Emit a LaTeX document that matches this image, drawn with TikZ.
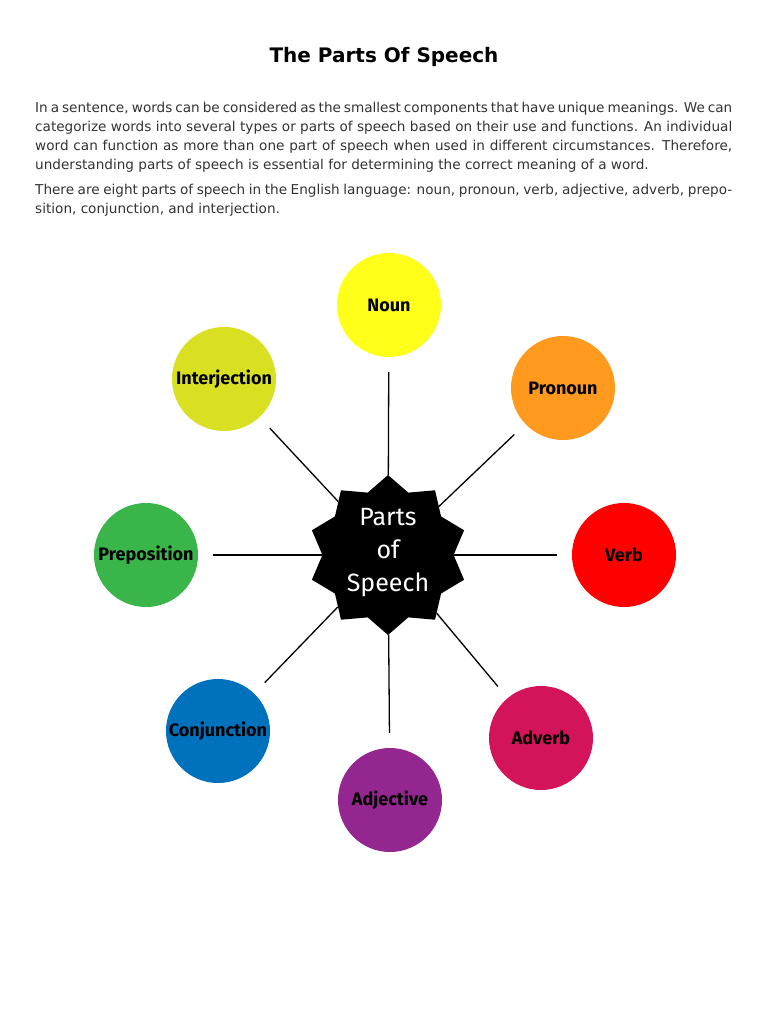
\documentclass[tikz,border=0pt]{standalone}
\usepackage{fontspec}
\setmainfont{DejaVu Sans}
\newfontfamily\lblfont{Fira Sans}
\usetikzlibrary{shapes.geometric}
\definecolor{cnoun}{HTML}{FFFF1A}
\definecolor{cpron}{HTML}{FF9A1F}
\definecolor{cverb}{HTML}{FF0000}
\definecolor{cadvb}{HTML}{D4145A}
\definecolor{cadj}{HTML}{93278F}
\definecolor{cconj}{HTML}{0071BC}
\definecolor{cprep}{HTML}{39B54A}
\definecolor{cintj}{HTML}{D9E021}
\definecolor{txt}{HTML}{333333}
\tikzset{
  posbubble/.style={circle,minimum size=104pt,inner sep=0pt,font=\lblfont\bfseries\fontsize{18}{20}\selectfont,text=black},
  link/.style={line width=1.3pt,shorten >=15pt},
}
\begin{document}
\begin{tikzpicture}[x=1pt,y=-1pt]
\useasboundingbox[fill=white] (0,0) rectangle (768,1024);
\node (title) at (384,57) {\fontsize{20}{24}\selectfont\bfseries The Parts Of Speech};
\node[anchor=north west,text width=697pt,inner sep=0pt,align=justify,text=txt,font=\fontsize{13.6}{19}\selectfont] (body) at (35,102)
{In a sentence, words can be considered as the smallest components that have unique meanings. We can categorize words into several types or parts of speech based on their use and functions. An individual word can function as more than one part of speech when used in different circumstances. Therefore, understanding parts of speech is essential for determining the correct meaning of a word.\par\vspace{6pt}
There are eight parts of speech in the English language: noun, pronoun, verb, adjective, adverb, preposition, conjunction, and interjection.};
\node[star,star points=10,star point ratio=1.22,minimum size=160pt,fill=black,inner sep=0pt] (star) at (388,555) {};
\node[text=white,align=center,font=\lblfont\fontsize{25}{33}\selectfont] (startext) at (388,553) {Parts\\of\\Speech};
\node[posbubble,fill=cnoun] (noun) at (389,305) {Noun};
\node[posbubble,fill=cpron] (pron) at (563,388) {Pronoun};
\node[posbubble,fill=cverb] (verb) at (624,555) {Verb};
\node[posbubble,fill=cadvb] (advb) at (541,738) {Adverb};
\node[posbubble,fill=cadj] (adj) at (390,800) {Adjective};
\node[posbubble,fill=cconj] (conj) at (218,731) {Conjunction};
\node[posbubble,fill=cprep] (prep) at (146,555) {Preposition};
\node[posbubble,fill=cintj] (intj) at (224,379) {Interjection};
\foreach \n in {noun,pron,verb,advb,adj,conj,prep,intj}
  \draw[link] (star) -- (\n);
\end{tikzpicture}
\end{document}
